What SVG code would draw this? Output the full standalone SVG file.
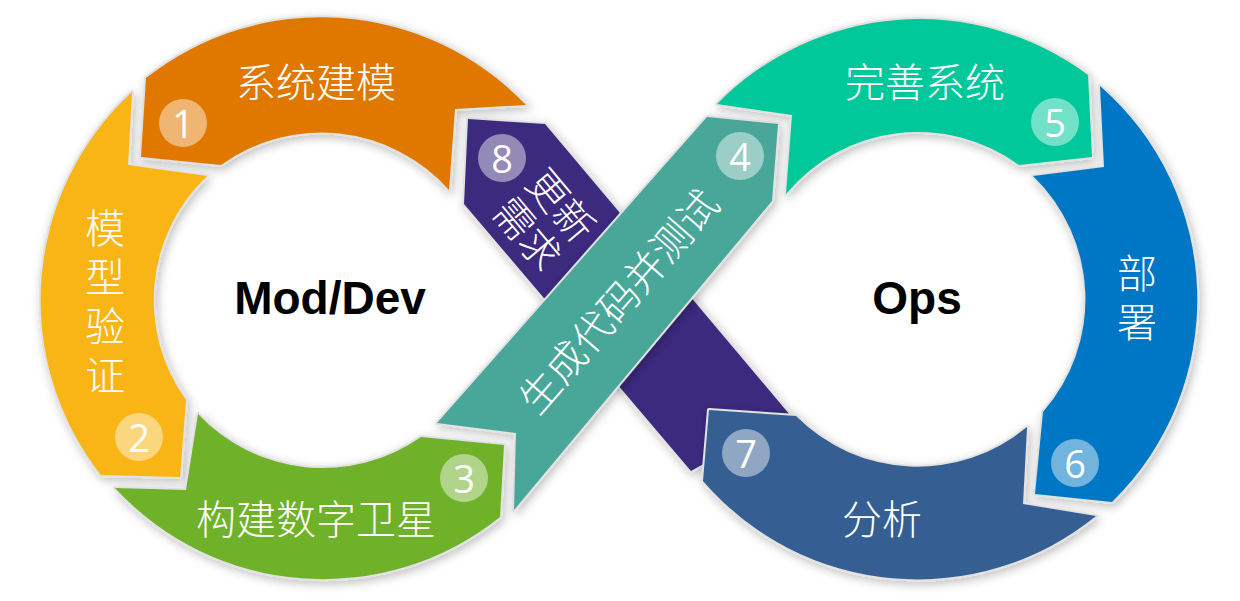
<svg xmlns="http://www.w3.org/2000/svg" width="1240" height="601" viewBox="0 0 1240 601">
<defs>
<filter id="sh" x="-20%" y="-20%" width="140%" height="140%"><feDropShadow dx="2" dy="3" stdDeviation="5" flood-color="#000" flood-opacity="0.25"/></filter>
<style>
.seg{stroke:#e2e2e2;stroke-width:4;stroke-linejoin:round;paint-order:stroke;filter:url(#sh)}
.num{fill:#fff;fill-opacity:0.45}
.nt{fill:#fff;font-family:"Open Sans","Noto Sans",sans-serif;font-size:38px;text-anchor:middle;dominant-baseline:central}
.lb{fill:#fff;font-family:"Noto Sans CJK SC",sans-serif;font-weight:300;font-size:40px;text-anchor:middle;dominant-baseline:central}
.vt{fill:#fff;font-family:"Noto Sans CJK SC",sans-serif;font-weight:300;font-size:40px;writing-mode:vertical-rl;text-anchor:start;dominant-baseline:central;letter-spacing:9px}
.ct{fill:#000;font-family:"Liberation Sans",Arial,sans-serif;font-weight:bold;font-size:46px;text-anchor:middle;dominant-baseline:central}
</style>
</defs>
<rect width="1240" height="601" fill="#fff"/>
<g id="connectors">
<path id="band8" class="seg" fill="#3A2A7E" d="M468,119 L545,124 L790,415 L691,471 L464,204 Z"/>
<path id="band4" class="seg" fill="#4AA79A" d="M437,423 L707,117 L778,124 L772,201 L514,510 L516,433 Z"/>
</g>
<g id="seg1"><path class="seg" fill="#E07800" d="M146,78 L141,157 L221,165 A171 171 0 0 1 449,190 L455,109 L526,105 A283 283 0 0 0 146,78 Z"/>
<circle class="num" cx="183" cy="123" r="24"/><text class="nt" x="183" y="123">1</text>
<text class="lb" x="316" y="80">系统建模</text></g>
<g id="seg2"><path class="seg" fill="#F9B515" d="M132,92 L128,165 L207,176 A171 171 0 0 0 186,400 L180,477 L101,475 A283 283 0 0 1 132,92 Z"/>
<circle class="num" cx="139" cy="437" r="24"/><text class="nt" x="139" y="437">2</text>
<text class="vt" x="105" y="208">模型验证</text></g>
<g id="seg3"><path class="seg" fill="#6FB12C" d="M115,488 L186,490 L198,414 A171 171 0 0 0 421,437 L504,445 L500,517 A283 283 0 0 1 115,488 Z"/>
<circle class="num" cx="464" cy="478" r="24"/><text class="nt" x="464" y="478">3</text>
<text class="lb" x="316" y="517">构建数字卫星</text></g>
<g id="seg5"><path class="seg" fill="#00C89A" d="M717,104 L792,115 L786,194 A171 171 0 0 1 1019,165 L1092,157 L1088,75 A283 283 0 0 0 717,104 Z"/>
<circle class="num" cx="1055" cy="122" r="24"/><text class="nt" x="1055" y="122">5</text>
<text class="lb" x="925" y="80">完善系统</text></g>
<g id="seg6"><path class="seg" fill="#0277C5" d="M1100,86 L1104,167 L1033,176 A171 171 0 0 1 1043,412 L1035,494 L1112,502 A283 283 0 0 0 1100,86 Z"/>
<circle class="num" cx="1075" cy="463" r="24"/><text class="nt" x="1075" y="463">6</text>
<text class="vt" x="1137" y="253">部署</text></g>
<g id="seg7"><path class="seg" fill="#355E92" d="M1096,516 L1023,504 L1027,427 A171 171 0 0 1 796,416 L709,410 L703,481 A283 283 0 0 0 1096,516 Z"/>
<circle class="num" cx="746" cy="453" r="24"/><text class="nt" x="746" y="453">7</text>
<text class="lb" x="882" y="517">分析</text></g>
<g id="node8"><circle class="num" cx="502" cy="158" r="24"/><text class="nt" x="502" y="158">8</text>
<g transform="translate(546,218) rotate(50)"><text class="lb" x="0" y="-22">更新</text><text class="lb" x="0" y="22">需求</text></g></g>
<g id="node4"><circle class="num" cx="740" cy="156" r="24"/><text class="nt" x="740" y="156">4</text>
<text class="lb" transform="translate(617,300) rotate(-49)" x="0" y="0">生成代码并测试</text></g>
<g id="centers"><text class="ct" x="330" y="298">Mod/Dev</text><text class="ct" x="917" y="298">Ops</text></g>
</svg>
